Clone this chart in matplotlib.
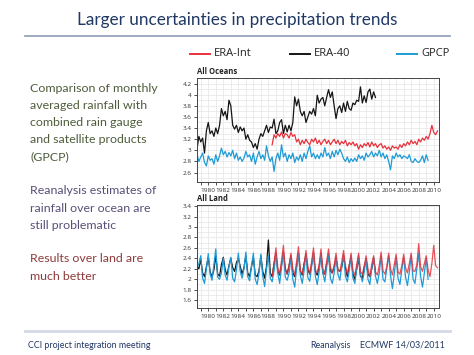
import numpy as np
import matplotlib
matplotlib.use("Agg")
import matplotlib.pyplot as plt
from matplotlib.ticker import MultipleLocator, FixedLocator, FuncFormatter
from matplotlib.lines import Line2D

# ---------------- data (quarterly values, mm/day) ----------------
ocean_gpcp_start = 1979.0
ocean_gpcp = [
    2.92, 2.80, 2.88, 2.95,  2.78, 2.72, 2.90, 2.82,  2.85, 2.75, 2.92, 2.80,
    2.90, 3.04, 2.92, 2.98,  2.88, 2.96, 2.90, 3.00,  2.85, 2.95, 2.82, 2.88,
    2.80, 2.86, 2.98, 2.88,  2.92, 2.80, 2.95, 2.75,  2.88, 2.98, 2.85, 2.92,
    2.82, 3.08, 2.90, 2.80,  2.88, 2.62, 2.85, 2.95,  2.82, 3.10, 2.88, 2.95,
    2.80, 2.92, 2.85, 2.95,  2.78, 2.88, 2.82, 2.92,  2.80, 2.95, 2.85, 2.98,
    3.08, 2.88, 2.95, 2.85,  2.92, 2.85, 2.95, 2.88,  3.05, 2.90, 2.95, 2.85,
    2.98, 2.88, 3.00, 2.92,  3.02, 2.95, 2.85, 2.80,  2.88, 2.78, 2.85, 2.80,
    2.86, 2.80, 2.92, 2.85,  2.90, 2.82, 2.95, 2.88,  2.92, 2.98, 2.88, 2.95,
    2.90, 3.00, 2.88, 2.95,  2.85, 2.92, 2.80, 2.65,  2.90, 2.85, 2.95, 2.88,
    2.92, 2.85, 2.90, 2.88,  2.85, 2.92, 2.80, 2.78,  2.85, 2.80, 2.78, 2.82,
    2.90, 2.78, 2.92, 2.82,
]
ocean_era40_start = 1979.0
ocean_era40 = [
    3.02, 3.25, 3.15, 3.22,  2.95, 3.35, 3.50, 3.30,  3.35, 3.25, 3.40, 3.30,
    3.45, 3.75, 3.62, 3.70,  3.55, 3.90, 3.80, 3.45,  3.38, 3.45, 3.32, 3.42,
    3.35, 3.40, 3.20, 3.28,  3.18, 3.15, 3.05, 3.12,  3.02, 3.20, 3.30, 3.25,
    3.35, 3.45, 3.32, 3.42,  3.40, 3.56, 3.30, 3.35,  3.50, 3.55, 3.30, 3.45,
    3.33, 3.45, 3.35, 3.50,  3.96, 3.80, 3.92, 3.70,  3.62, 3.70, 3.50, 3.60,
    3.70, 3.65, 3.75, 3.62,  3.99, 3.85, 3.92, 3.95,  3.80, 3.95, 4.09, 3.95,
    4.05, 3.80, 3.57, 3.75,  3.80, 3.68, 3.85, 3.70,  3.88, 3.75, 3.72, 3.85,
    3.82, 3.90, 3.88, 4.14,  3.85, 3.98, 3.86, 4.05,  4.10, 3.92, 4.05, 3.95,
]
ocean_eraint_start = 1989.0
ocean_eraint = [
    3.10, 3.28, 3.22, 3.30,  3.25, 3.33, 3.22, 3.30,  3.28, 3.22, 3.32, 3.25,
    3.28, 3.15, 3.20, 3.10,  3.18, 3.12, 3.20, 3.14,  3.10, 3.20, 3.15, 3.22,
    3.12, 3.18, 3.10, 3.16,  3.20, 3.12, 3.18, 3.10,  3.15, 3.20, 3.12, 3.18,
    3.10, 3.16, 3.12, 3.18,  3.08, 3.14, 3.10, 3.15,  3.08, 3.12, 3.02, 3.10,
    3.05, 3.12, 3.08, 3.14,  3.06, 3.15, 3.08, 3.12,  3.05, 3.10, 3.12, 3.04,
    3.08, 3.02, 3.06, 3.00,  3.08, 3.04, 3.06, 3.02,  3.10, 3.05, 3.12, 3.08,
    3.15, 3.10, 3.18, 3.12,  3.16, 3.10, 3.20, 3.15,  3.22, 3.18, 3.25, 3.20,
    3.30, 3.45, 3.32, 3.28,  3.35,
]

land_gpcp_start = 1979.0
land_gpcp = [
    2.22, 2.30, 2.45, 2.02,  1.92, 2.20, 2.49, 2.10,  1.98, 2.28, 2.58, 2.04,
    2.00, 2.12, 2.40, 2.08,  1.98, 2.24, 2.42, 2.02,  1.95, 2.18, 2.50, 2.15,
    2.02, 2.20, 2.52, 2.05,  1.97, 2.25, 2.50, 2.00,  1.90, 2.12, 2.48, 2.06,
    1.86, 2.20, 2.45, 2.02,  1.95, 2.16, 2.48, 2.12,  1.92, 2.24, 2.52, 2.04,
    1.98, 2.12, 2.42, 2.00,  1.85, 2.20, 2.50, 2.08,  1.92, 2.16, 2.48, 2.03,
    1.96, 2.24, 2.52, 2.06,  1.90, 2.14, 2.50, 2.12,  1.95, 2.22, 2.50, 2.02,
    1.92, 2.12, 2.42, 2.10,  1.98, 2.24, 2.48, 2.06,  1.95, 2.16, 2.45, 2.02,
    1.92, 2.20, 2.45, 2.10,  1.95, 2.14, 2.40, 2.00,  1.90, 2.22, 2.42, 2.06,
    1.92, 2.12, 2.45, 2.00,  1.95, 2.20, 2.45, 2.08,  1.82, 2.10, 2.42, 2.02,
    1.90, 2.18, 2.42, 2.04,  1.88, 2.14, 2.45, 2.00,  1.92, 2.20, 2.50, 2.06,
    1.85, 2.12, 2.40, 2.00,
]
land_era40_start = 1979.0
land_era40 = [
    2.25, 2.20, 2.38, 2.12,  2.05, 2.24, 2.42, 2.14,  2.05, 2.18, 2.45, 2.10,
    2.06, 2.28, 2.42, 2.18,  2.08, 2.26, 2.40, 2.22,  2.15, 2.32, 2.40, 2.25,
    2.10, 2.22, 2.45, 2.12,  2.05, 2.24, 2.42, 2.08,  2.05, 2.16, 2.45, 2.15,
    2.02, 2.25, 2.75, 2.12,  2.05, 2.30, 2.50, 2.16,  2.08, 2.28, 2.52, 2.20,
    2.10, 2.26, 2.45, 2.12,  2.05, 2.25, 2.50, 2.16,  2.08, 2.30, 2.48, 2.18,
    2.10, 2.28, 2.50, 2.14,  2.08, 2.24, 2.48, 2.12,  2.10, 2.30, 2.45, 2.16,
    2.12, 2.24, 2.42, 2.18,  2.15, 2.22, 2.45, 2.22,  2.05, 2.26, 2.42, 2.10,
    2.00, 2.20, 2.40, 2.06,  2.02, 2.24, 2.38, 2.10,  2.05, 2.20, 2.40, 2.12,
]
land_eraint_start = 1989.0
land_eraint = [
    2.05, 2.30, 2.60, 2.22,  2.10, 2.36, 2.65, 2.18,  2.10, 2.26, 2.50, 2.20,
    2.08, 2.34, 2.62, 2.16,  2.10, 2.28, 2.55, 2.24,  2.10, 2.34, 2.60, 2.18,
    2.12, 2.28, 2.58, 2.20,  2.10, 2.34, 2.58, 2.24,  2.12, 2.26, 2.50, 2.18,
    2.15, 2.32, 2.55, 2.26,  2.10, 2.26, 2.50, 2.16,  2.08, 2.28, 2.50, 2.14,
    2.10, 2.24, 2.45, 2.20,  2.05, 2.28, 2.45, 2.14,  2.08, 2.26, 2.52, 2.16,
    2.10, 2.24, 2.50, 2.20,  2.08, 2.28, 2.48, 2.14,  2.10, 2.26, 2.48, 2.22,
    2.12, 2.30, 2.50, 2.16,  2.15, 2.28, 2.68, 2.24,  2.15, 2.30, 2.45, 2.18,
    2.05, 2.30, 2.65, 2.26,  2.22,
]

series_names = ["ERA-Int", "ERA-40", "GPCP"]
year_ticks = list(range(1980, 2011, 2))

# ---------------- styling ----------------
C_RED = "#e8323c"
C_BLACK = "#151515"
C_BLUE = "#1e9bd7"
TITLE_C = "#1f3864"

def times(start, vals):
    return start + np.arange(len(vals)) / 4.0

fig = plt.figure(figsize=(4.74, 3.55), dpi=100)
fig.patch.set_facecolor("white")

W, H = 474.0, 355.0
def fx(px): return px / W
def fy(py): return 1 - py / H

# Title and rule
fig.text(0.5, fy(20), "Larger uncertainties in precipitation trends",
         ha="center", va="center", fontsize=12.3, color=TITLE_C, family="Lato")
fig.add_artist(Line2D([fx(25), fx(450)], [fy(36), fy(36)], color="#8c9bb5", lw=1.2))

# Footer
fig.add_artist(Line2D([fx(25), fx(450)], [fy(331), fy(331)], color="#d3d8e3", lw=2.0))
fig.text(fx(28), fy(345), "CCI project integration meeting", ha="left", va="center",
         fontsize=6.4, color="#1f3864", family="Lato")
fig.text(fx(310), fy(345), "Reanalysis", ha="left", va="center",
         fontsize=6.4, color="#1f3864", family="Lato")
fig.text(fx(360), fy(345), "ECMWF 14/03/2011", ha="left", va="center",
         fontsize=6.4, color="#1f3864", family="Lato")

# Left text blocks
paras = [
    (["Comparison of monthly", "averaged rainfall with", "combined rain gauge",
      "and satellite products", "(GPCP)"], 88, "#4f5d3c"),
    (["Reanalysis estimates of", "rainfall over ocean are", "still problematic"], 191, "#5a4f78"),
    (["Results over land are", "much better"], 259, "#8e3b3b"),
]
for lines, y0, col in paras:
    for i, ln in enumerate(lines):
        fig.text(fx(30), fy(y0 + i * 17.3), ln, ha="left", va="center",
                 fontsize=8.9, color=col, family="Lato")

# Legend row
leg = [(C_RED, 190, series_names[0]), (C_BLACK, 290, series_names[1]), (C_BLUE, 397, series_names[2])]
for col, x0, name in leg:
    fig.add_artist(Line2D([fx(x0), fx(x0 + 20)], [fy(54), fy(54)], color=col, lw=1.4))
    fig.text(fx(x0 + 24), fy(54), name, ha="left", va="center", fontsize=8,
             color="#222222", family="Open Sans")

def style_axes(ax, ylim, ymajor):
    ax.set_xlim(1979.0, 2011.2)
    ax.set_ylim(*ylim)
    ax.xaxis.set_major_locator(FixedLocator([y + 0.5 for y in year_ticks]))
    ax.xaxis.set_major_formatter(FuncFormatter(lambda v, p: "%d" % int(v)))
    ax.xaxis.set_minor_locator(FixedLocator([y + 0.5 for y in range(1979, 2011)]))
    ax.yaxis.set_major_locator(MultipleLocator(ymajor))
    ax.yaxis.set_minor_locator(MultipleLocator(0.1))
    ax.yaxis.set_major_formatter(FuncFormatter(lambda v, p: "%g" % round(v, 1)))
    ax.grid(True, which="both", color="#e4e4e4", lw=0.5)
    ax.set_axisbelow(True)
    ax.tick_params(axis="both", which="both", direction="out", length=2.5, width=0.6,
                   labelsize=4.6, colors="#333333", pad=1.5)
    ax.tick_params(axis="y", which="minor", length=0)
    for lab in ax.get_xticklabels() + ax.get_yticklabels():
        lab.set_family("Open Sans")
    for s in ax.spines.values():
        s.set_color("#444444")
        s.set_linewidth(0.7)

# Top: All Oceans
ax1 = fig.add_axes([fx(197), fy(182), fx(439) - fx(197), fy(78) - fy(182)])
ax1.plot(times(ocean_gpcp_start, ocean_gpcp), ocean_gpcp, color=C_BLUE, lw=0.9)
ax1.plot(times(ocean_era40_start, ocean_era40), ocean_era40, color=C_BLACK, lw=0.9)
ax1.plot(times(ocean_eraint_start, ocean_eraint), ocean_eraint, color=C_RED, lw=0.9)
style_axes(ax1, (2.43, 4.30), 0.2)
ax1.text(0.0, 1.02, "All Oceans", transform=ax1.transAxes, ha="left", va="bottom",
         fontsize=5.5, fontweight="bold", color="#222222", family="Open Sans")

# Bottom: All Land
ax2 = fig.add_axes([fx(197), fy(308), fx(439) - fx(197), fy(205) - fy(308)])
ax2.plot(times(land_era40_start, land_era40), land_era40, color=C_BLACK, lw=0.9)
ax2.plot(times(land_gpcp_start, land_gpcp), land_gpcp, color=C_BLUE, lw=0.9)
ax2.plot(times(land_eraint_start, land_eraint), land_eraint, color=C_RED, lw=0.9, alpha=0.85)
style_axes(ax2, (1.45, 3.42), 0.2)
ax2.text(0.0, 1.02, "All Land", transform=ax2.transAxes, ha="left", va="bottom",
         fontsize=5.5, fontweight="bold", color="#222222", family="Open Sans")

fig.savefig("out.png", dpi=100, facecolor="white")
